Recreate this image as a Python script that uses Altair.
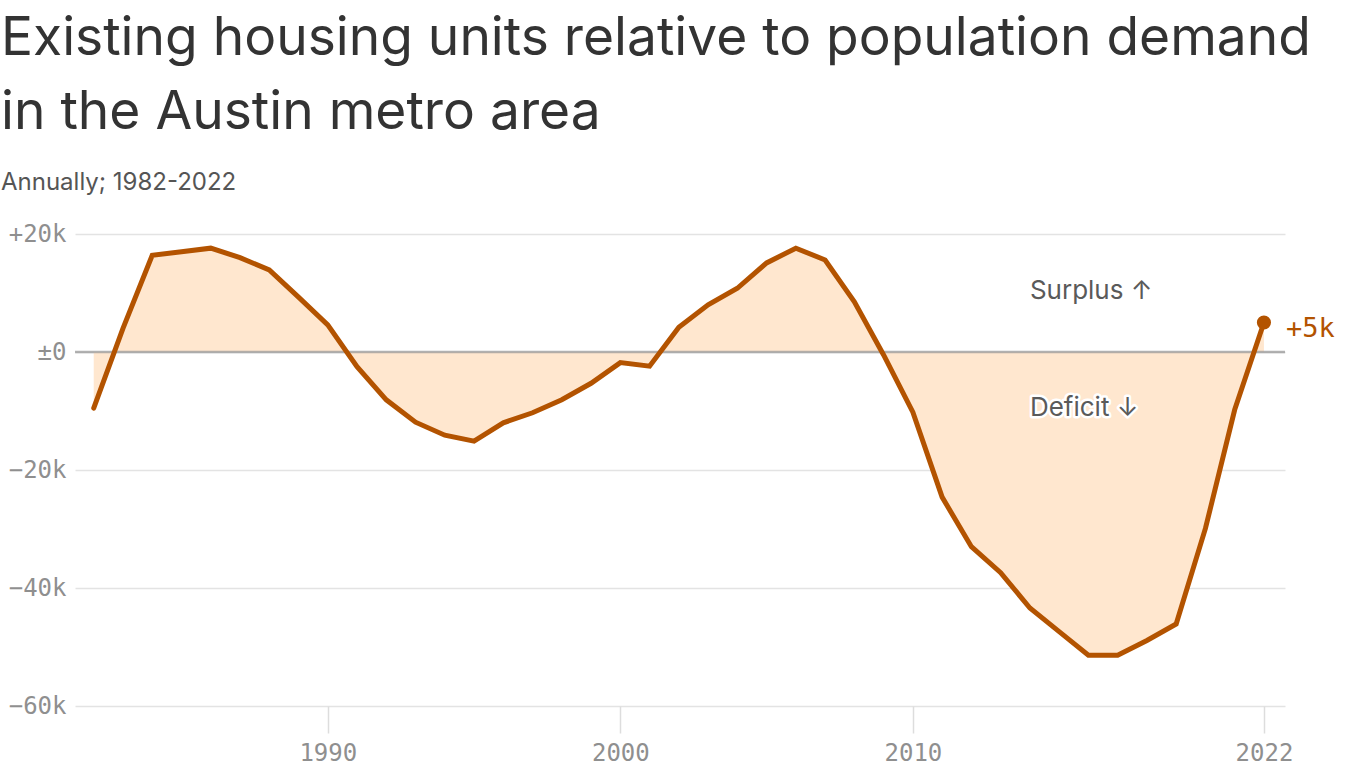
import altair as alt
import pandas as pd

# Annual housing surplus / deficit (units) for the Austin metro area
years = list(range(1982, 2023))
balance_k = [
    -9.5, 4.0, 16.4, 17.0, 17.6, 16.0, 13.9, 9.3, 4.6, -2.5,
    -8.1, -11.9, -14.1, -15.1, -12.0, -10.3, -8.1, -5.3, -1.8, -2.4,
    4.2, 8.0, 10.8, 15.1, 17.6, 15.6, 8.5, -0.5, -10.2, -24.6,
    -33.0, -37.4, -43.4, -47.4, -51.4, -51.4, -48.9, -46.1, -29.9, -9.8,
    5.0,
]
x_ticks = [1990, 2000, 2010, 2022]
y_ticks = [-60000, -40000, -20000, 0, 20000]

# Annotation placement (in data units)
notes_text = ["Surplus ↑", "Deficit ↓"]
notes_year = [2014.0, 2014.0]
notes_value = [10300, -9500]

df = pd.DataFrame({"year": years, "value": [v * 1000 for v in balance_k]})
last = df.tail(1).copy()
last["label"] = last["value"].map(lambda v: ("+" if v > 0 else "−") + f"{abs(v) / 1000:.0f}k")
notes = pd.DataFrame({"year": notes_year, "value": notes_value, "text": notes_text})

LINE = "#b35300"
FILL = "#ffe7cf"
MONO = "DejaVu Sans Mono"
SANS = "Inter"

x_scale = alt.Scale(domain=[1981.36, 2022.72], nice=False, zero=False)
y_scale = alt.Scale(domain=[-60000, 20000], nice=False)

x_axis = alt.Axis(
    values=x_ticks, format="d", title=None, grid=False, domain=False,
    ticks=True, tickSize=27, tickColor="#dddddd", tickWidth=1.5,
    labelFont=MONO, labelFontSize=24, labelColor="#8f8f8f", labelPadding=8,
)
y_axis = alt.Axis(
    values=y_ticks, title=None, grid=True, gridColor="#e3e3e3", gridWidth=1.5,
    domain=False, ticks=False, labelFont=MONO, labelFontSize=24,
    labelColor="#8f8f8f", labelPadding=9,
    labelExpr="datum.value > 0 ? '+' + format(datum.value / 1000, 'd') + 'k' : "
              "datum.value == 0 ? '±0' : '−' + format(-datum.value / 1000, 'd') + 'k'",
)

X = alt.X("year:Q", scale=x_scale, axis=x_axis)
Y = alt.Y("value:Q", scale=y_scale, axis=y_axis)

base = alt.Chart(df)

area = base.mark_area(color=FILL, opacity=1).encode(x=X, y=Y, y2=alt.datum(0))

zero_rule = alt.Chart(pd.DataFrame({"value": [0]})).mark_rule(
    color="#9a9a9a", strokeWidth=2.5, opacity=0.75
).encode(y=Y)

line = base.mark_line(color=LINE, strokeWidth=5, strokeCap="round").encode(x=X, y=Y)

end_point = alt.Chart(last).mark_point(
    filled=True, color=LINE, size=200, opacity=1, shape="circle"
).encode(x=X, y=Y)

end_label = alt.Chart(last).mark_text(
    align="left", baseline="middle", dx=22, dy=6, font=MONO, fontSize=27, color=LINE
).encode(x=X, y=Y, text="label:N")

notes_halo = alt.Chart(notes).mark_text(
    align="left", baseline="middle", font=SANS, fontSize=26, color="#5a5a5a",
    stroke="white", strokeWidth=5, strokeJoin="round",
).encode(x=X, y=Y, text="text:N")

notes_text_layer = alt.Chart(notes).mark_text(
    align="left", baseline="middle", font=SANS, fontSize=26, color="#5a5a5a",
).encode(x=X, y=Y, text="text:N")

chart = alt.layer(
    area, zero_rule, line, end_point, end_label, notes_halo, notes_text_layer
).properties(
    width=1210,
    height=472,
    background="white",
    padding={"left": 75, "top": 234, "right": 81, "bottom": 62},
    autosize=alt.AutoSizeParams(type="none"),
    title=alt.TitleParams(
        text=["Existing housing units relative to population demand", "in the Austin metro area"],
        subtitle="Annually; 1982-2022",
        anchor="start", frame="group", dx=-74, offset=26,
        font=SANS, fontSize=53.3, fontWeight=400, color="#333333", lineHeight=74,
        subtitleFont=SANS, subtitleFontSize=24, subtitleColor="#555555",
        subtitlePadding=31,
    ),
).configure_view(strokeWidth=0)

chart.save("out.html", embed_options={"renderer": "svg", "actions": False})
